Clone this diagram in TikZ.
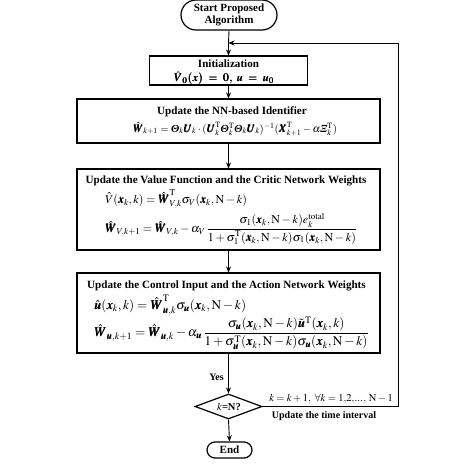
\documentclass[tikz,border=0pt]{standalone}
\usepackage{amsmath}
\usepackage{mathptmx}
\usepackage{bm}
\usepackage[no-math]{fontspec}
\setmainfont{Liberation Serif}
\usetikzlibrary{shapes.misc,shapes.geometric,arrows.meta}
\newcommand{\bx}{\bm{x}}
\newcommand{\bW}{\hat{\bm{W}}}
\newcommand{\bu}{\bm{u}}
\newcommand{\bTh}{\text{\bfseries\itshape Θ}}
\newcommand{\bXi}{\text{\bfseries\itshape Ξ}}
\newcommand{\fs}[1]{\fontsize{#1}{#1}\selectfont}
\begin{document}
\begin{tikzpicture}[x=1pt,y=-1pt,
  font=\fs{10},
  box/.style={draw,line width=1.2pt,inner sep=0pt},
  term/.style={draw,line width=1.2pt,rounded rectangle,inner sep=0pt},
  decis/.style={draw,line width=1.2pt,diamond,inner sep=0pt},
  arr/.style={line width=0.9pt,-{Stealth[length=6pt,width=5pt]}},
  ln/.style={line width=0.9pt},
  ttl/.style={font=\fs{11.1}\bfseries,inner sep=0pt},
  eq/.style={anchor=west,inner sep=0pt}]
\useasboundingbox (0,0) rectangle (474,474);
% boxes
\node[term,minimum width=96pt,minimum height=30pt,align=center,font=\fontsize{11}{12}\selectfont\bfseries] (start) at (229,15) {Start Proposed\\[0pt]Algorithm};
\node[box,minimum width=158pt,minimum height=29pt] (init) at (228.5,70.5) {};
\node[box,minimum width=303pt,minimum height=44pt] (ident) at (228.5,121) {};
\node[box,minimum width=303pt,minimum height=81pt] (value) at (228.5,209.5) {};
\node[box,minimum width=303pt,minimum height=80pt] (ctrl) at (228.5,313) {};
\node[decis,minimum width=67pt,minimum height=25pt,aspect=2.7] (dec) at (228.5,406.5) {};
\node[term,minimum width=45pt,minimum height=16pt,font=\fs{11}\bfseries] (end) at (229.5,450) {End};
% texts
\node[ttl] (t1) at (228.5,64) {Initialization};
\node[inner sep=0pt,font=\fs{11.5}] (e1) at (224,78) {$\boldsymbol{\hat{V}_0(x)\;=\;0,\;u\;=\;u_0}$};
\node[ttl] (t2) at (232,112) {Update the NN-based Identifier};
\node[eq,font=\fs{10.8}] (e2) at (133,129) {$\bW_{k+1}=\bTh_k\bm{U}_k\cdot(\bm{U}_k^{\mathrm{T}}\bTh_k^{\mathrm{T}}\bTh_k\bm{U}_k)^{-1}(\bm{X}_{k+1}^{\mathrm{T}}-\alpha\bXi_k^{\mathrm{T}})$};
\node[ttl] (t3) at (226,181) {Update the Value Function and the Critic Network Weights};
\node[eq,font=\fs{12}] (e3) at (105,199) {$\hat{V}(\bx_k,k)=\bW_{V,k}^{\mathrm{T}}\sigma_V(\bx_k,\mathrm{N}-k)$};
\node[eq,font=\fs{12}] (e4) at (105,229) {$\bW_{V,k+1}=\bW_{V,k}-\alpha_V\,\dfrac{\sigma_1(\bx_k,\mathrm{N}-k)e_k^{\mathrm{total}}}{1+\sigma_1^{\mathrm{T}}(\bx_k,\mathrm{N}-k)\sigma_1(\bx_k,\mathrm{N}-k)}$};
\node[ttl] (t4) at (226.5,286) {Update the Control Input and the Action Network Weights};
\node[eq,font=\fs{13.2}] (e5) at (94,305) {$\hat{\bu}(\bx_k,k)=\bW_{\bu,k}^{\mathrm{T}}\sigma_{\bu}(\bx_k,\mathrm{N}-k)$};
\node[eq,font=\fs{13.2}] (e6) at (94,333) {$\bW_{\bu,k+1}=\bW_{\bu,k}-\alpha_{\bu}\,\dfrac{\sigma_{\bu}(\bx_k,\mathrm{N}-k)\tilde{\bu}^{\mathrm{T}}(\bx_k,k)}{1+\sigma_{\bu}^{\mathrm{T}}(\bx_k,\mathrm{N}-k)\sigma_{\bu}(\bx_k,\mathrm{N}-k)}$};
\node[ttl,font=\fs{10.5}\bfseries] (dtxt) at (229,406.5) {$k$=N?};
\node[ttl,font=\fs{10}\bfseries,anchor=east] (yes) at (224,377) {Yes};
\node[inner sep=0pt,font=\fs{10.5}] (lk) at (331,399) {$k=k+1,\ \forall k=1{,}2{,}...{,}\ \mathrm{N}-1$};
\node[ttl,font=\fs{10}\bfseries] (lu) at (324,416) {Update the time interval};
% connectors
\coordinate (m) at (228.5,43);
\coordinate (r1) at (398,406.5);
\coordinate (r2) at (398,43);
\draw[ln] (start.south) -- (m);
\draw[arr] (m) -- (init.north);
\draw[arr] (init.south) -- (ident.north);
\draw[arr] (ident.south) -- (value.north);
\draw[arr] (value.south) -- (ctrl.north);
\draw[arr] (ctrl.south) -- (dec.north);
\draw[arr] (dec.south) -- (end.north);
\draw[arr] (dec.east) -- (r1) -- (r2) -- (m);
\end{tikzpicture}
\end{document}
